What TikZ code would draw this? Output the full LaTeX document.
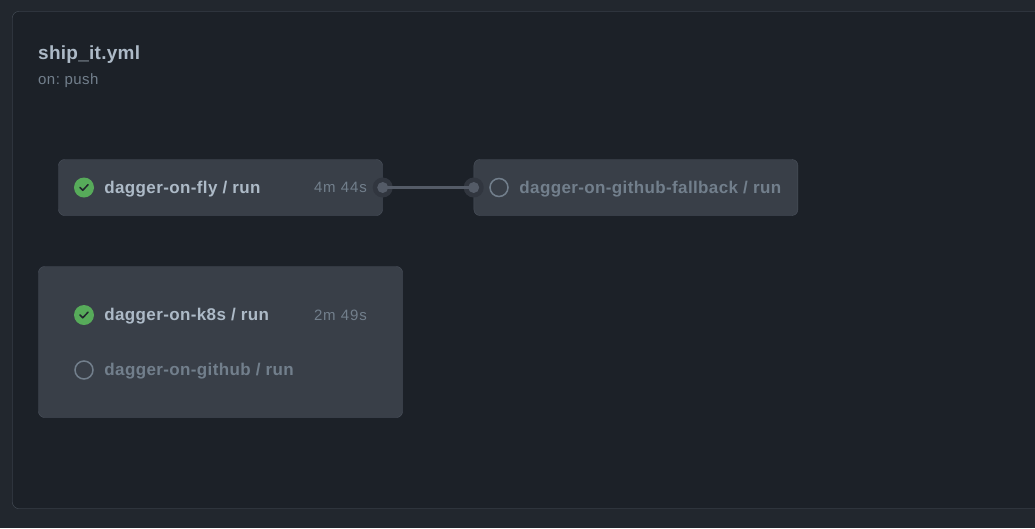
\documentclass[tikz,border=0pt]{standalone}
\usepackage{fontspec}
\setmainfont{Liberation Sans}
\frenchspacing
\usetikzlibrary{positioning}
\definecolor{pagebg}{RGB}{34,39,46}
\definecolor{panelbg}{RGB}{28,33,40}
\definecolor{panelline}{RGB}{76,84,94}
\definecolor{jobbg}{RGB}{57,63,72}
\definecolor{jobline}{RGB}{76,83,94}
\definecolor{titletext}{RGB}{173,186,199}
\definecolor{dimtext}{RGB}{114,127,140}
\definecolor{okgreen}{RGB}{87,171,90}
\definecolor{porthalo}{RGB}{49,54,63}
\definecolor{portdot}{RGB}{84,91,103}
\begin{document}
\begin{tikzpicture}[x=1pt, y=-1pt,
		job/.style = {draw=jobline, fill=jobbg, rounded corners=6pt, minimum width=324pt, minimum height=56pt, inner sep=0pt},
		jobgroup/.style = {job, minimum width=364pt, minimum height=151pt},
		halo/.style = {circle, fill=porthalo, minimum size=20pt, inner sep=0pt},
		port/.style = {circle, fill=portdot, minimum size=11pt, inner sep=0pt},
		done/.style = {circle, fill=okgreen, minimum size=20pt, inner sep=0pt, path picture={
			\draw[pagebg, line width=1.5pt, line cap=round, line join=round]
				([shift={(-4pt,0pt)}]path picture bounding box.center) -- ++(2.8,2.8) -- ++(5.2,-5.6);}},
		waiting/.style = {circle, draw=dimtext, line width=1.5pt, minimum size=18pt, inner sep=0pt},
		jobname/.style = {inner sep=0pt, text height=11pt, text depth=0pt, font=\fontsize{17}{17}\selectfont\bfseries\addfontfeature{LetterSpace=2.2}, text=titletext},
		jobdim/.style = {jobname, text=dimtext},
		jobtime/.style = {inner sep=0pt, text height=10pt, text depth=0pt, font=\fontsize{15}{15}\selectfont\addfontfeature{LetterSpace=6}, text=dimtext}]
	\useasboundingbox (0,0) rectangle (1035,528);
	\clip (0,0) rectangle (1035,528);
	\fill[pagebg] (0,0) rectangle (1035,528);
	\draw[panelline, fill=panelbg, rounded corners=6pt] (12.5,11.5) rectangle (1060,508.5);
	\node[anchor=base west, inner sep=0pt, font=\fontsize{19}{19}\selectfont\bfseries\addfontfeature{LetterSpace=1.4}, text=titletext] (title) at (38,59) {ship\_it.yml};
	\node[anchor=base west, inner sep=0pt, font=\fontsize{15}{15}\selectfont\addfontfeature{LetterSpace=3}, text=dimtext] (trigger) at (38,84) {on: push};
	% jobs
	\node[job] (fly) at (220.5,187.5) {};
	\node[job] (fallback) [right=91pt of fly] {};
	\node[jobgroup] (group) at (220.5,342) {};
	% ports
	\node[halo] (flyhalo) at (fly.east) {};
	\node[halo] (fallbackhalo) at (fallback.west) {};
	\draw[portdot, line width=2.2pt] (fly.east) -- (fallback.west);
	\node[port] (flyport) at (fly.east) {};
	\node[port] (fallbackport) at (fallback.west) {};
	% first row
	\node[done] (flyicon) at (84,187.5) {};
	\node[jobname] (flyname) [right=10pt of flyicon] {dagger-on-fly / run};
	\node[jobtime, anchor=east] (flytime) at (367,187.5) {4m 44s};
	\node[waiting] (fallbackicon) at (499,187.5) {};
	\node[jobdim] (fallbackname) [right=10.5pt of fallbackicon] {dagger-on-github-fallback / run};
	% group
	\node[done] (k8sicon) at (84,315) {};
	\node[jobname] (k8sname) [right=10pt of k8sicon] {dagger-on-k8s / run};
	\node[jobtime, anchor=east] (k8stime) at (367,315) {2m 49s};
	\node[waiting] (githubicon) at (84,370) {};
	\node[jobdim] (githubname) [right=10.5pt of githubicon] {dagger-on-github / run};
\end{tikzpicture}
\end{document}
